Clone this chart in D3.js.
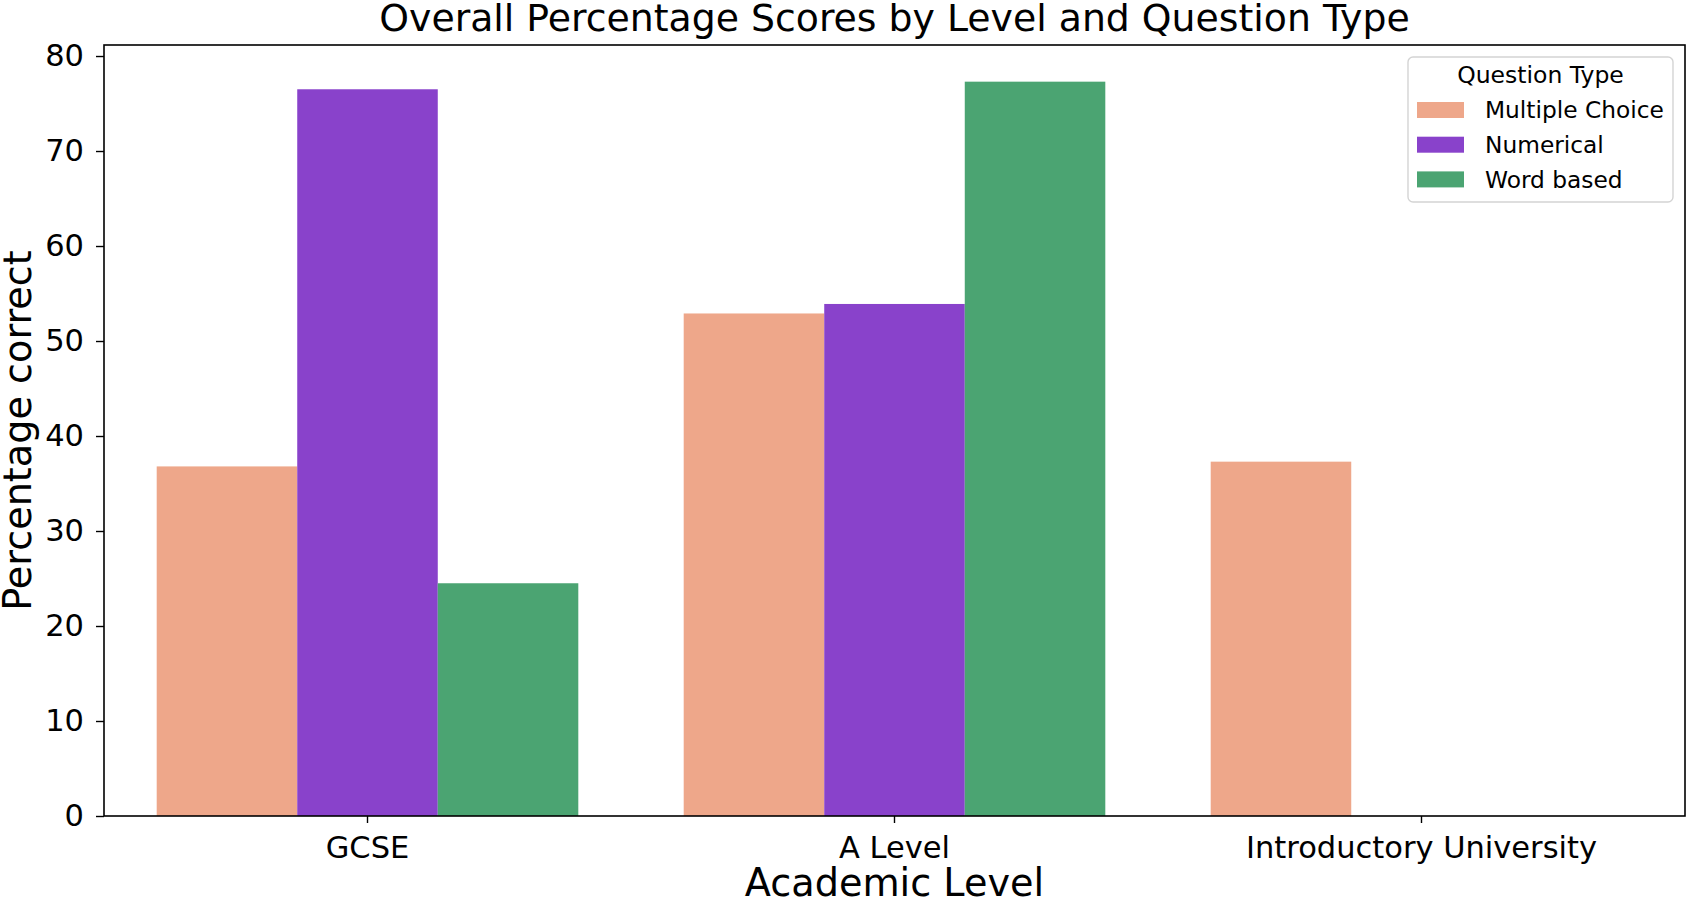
<!DOCTYPE html>
<html>
<head>
<meta charset="utf-8">
<script src="https://cdn.jsdelivr.net/npm/d3@7"></script>
<style>
  body { margin: 0; background: #fff; }
  text { font-family: "DejaVu Sans", sans-serif; fill: #000; }
</style>
</head>
<body>
<div id="chart"></div>
<script>
// Data
const categories = ["GCSE", "A Level", "Introductory University"];
const questionTypes = ["Multiple Choice", "Numerical", "Word based"];
const multipleChoice = [36.8, 52.9, 37.3];
const numerical = [76.5, 53.9, null];
const wordBased = [24.5, 77.3, null];
const yTicks = [0, 10, 20, 30, 40, 50, 60, 70, 80];
const colors = ["#eea78a", "#8942cb", "#4ba472"];

const width = 1690;
const height = 903;
const margin = { top: 45, right: 5, bottom: 87, left: 104 };
const innerWidth = width - margin.left - margin.right;
const innerHeight = height - margin.top - margin.bottom;

const seriesValues = [multipleChoice, numerical, wordBased];
const data = [];
categories.forEach((c, i) => {
  questionTypes.forEach((q, j) => {
    if (seriesValues[j][i] !== null) data.push({ level: c, type: q, value: seriesValues[j][i] });
  });
});

/*******************************/
/*    Append the containers    */
/*******************************/
const svg = d3.select("#chart")
  .append("svg")
    .attr("width", width)
    .attr("height", height);

const innerChart = svg
  .append("g")
    .attr("transform", `translate(${margin.left}, ${margin.top})`);

/****************************/
/*    Declare the scales    */
/****************************/
const xScale = d3.scaleBand()
  .domain(categories)
  .range([0, innerWidth])
  .padding(0);

const xInner = d3.scaleBand()
  .domain(questionTypes)
  .range([xScale.bandwidth() * 0.1, xScale.bandwidth() * 0.9]);

const yScale = d3.scaleLinear()
  .domain([0, 81.16])
  .range([innerHeight, 0]);

const colorScale = d3.scaleOrdinal()
  .domain(questionTypes)
  .range(colors);

/***********************/
/*        Bars         */
/***********************/
innerChart
  .append("g")
  .selectAll("rect")
  .data(data)
  .join("rect")
    .attr("x", d => xScale(d.level) + xInner(d.type))
    .attr("y", d => yScale(d.value))
    .attr("width", xInner.bandwidth())
    .attr("height", d => innerHeight - yScale(d.value))
    .attr("fill", d => colorScale(d.type));

/***************************/
/*     Append the axes     */
/***************************/
const bottomAxis = innerChart
  .append("g")
    .attr("transform", `translate(0, ${innerHeight})`)
    .call(d3.axisBottom(xScale).tickSizeOuter(0).tickSize(7));
bottomAxis.select(".domain").remove();
bottomAxis.selectAll("line").attr("stroke", "#000").attr("stroke-width", 1.4);
bottomAxis.selectAll("text")
  .attr("y", 42)
  .attr("dy", 0)
  .style("font-size", "30.5px")
  .style("font-family", "DejaVu Sans, sans-serif")
  .attr("fill", "#000");

const leftAxis = innerChart
  .append("g")
    .call(d3.axisLeft(yScale).tickValues(yTicks).tickSizeOuter(0).tickSize(8));
leftAxis.select(".domain").remove();
leftAxis.selectAll("line").attr("stroke", "#000").attr("stroke-width", 1.4);
leftAxis.selectAll("text")
  .attr("x", -20)
  .style("font-size", "30.5px")
  .style("font-family", "DejaVu Sans, sans-serif")
  .attr("fill", "#000");

// Frame (spines)
innerChart
  .append("rect")
    .attr("width", innerWidth)
    .attr("height", innerHeight)
    .attr("fill", "none")
    .attr("stroke", "#000")
    .attr("stroke-width", 1.6);

/***************************/
/*     Titles & labels     */
/***************************/
svg.append("text")
  .attr("x", margin.left + innerWidth / 2)
  .attr("y", 31)
  .attr("text-anchor", "middle")
  .style("font-size", "37.8px")
  .text("Overall Percentage Scores by Level and Question Type");

svg.append("text")
  .attr("x", margin.left + innerWidth / 2)
  .attr("y", 896)
  .attr("text-anchor", "middle")
  .style("font-size", "38.2px")
  .text("Academic Level");

svg.append("text")
  .attr("transform", `translate(31, ${margin.top + innerHeight / 2}) rotate(-90)`)
  .attr("text-anchor", "middle")
  .style("font-size", "38.2px")
  .text("Percentage correct");

/***********************/
/*       Legend        */
/***********************/
const legend = svg.append("g")
  .attr("transform", "translate(1408, 57)");

legend.append("rect")
  .attr("width", 265)
  .attr("height", 145)
  .attr("rx", 5)
  .attr("fill", "#fff")
  .attr("fill-opacity", 0.8)
  .attr("stroke", "#d4d4d4")
  .attr("stroke-width", 1.4);

legend.append("text")
  .attr("x", 132.5)
  .attr("y", 26)
  .attr("text-anchor", "middle")
  .style("font-size", "23.5px")
  .text("Question Type");

const legendItems = legend.selectAll(".legend-item")
  .data(questionTypes)
  .join("g")
    .attr("class", "legend-item")
    .attr("transform", (d, i) => `translate(9, ${45 + i * 34.7})`);

legendItems.append("rect")
  .attr("width", 47)
  .attr("height", 16)
  .attr("fill", d => colorScale(d));

legendItems.append("text")
  .attr("x", 68)
  .attr("y", 8)
  .attr("dy", "0.36em")
  .style("font-size", "23.3px")
  .text(d => d);
</script>
</body>
</html>
